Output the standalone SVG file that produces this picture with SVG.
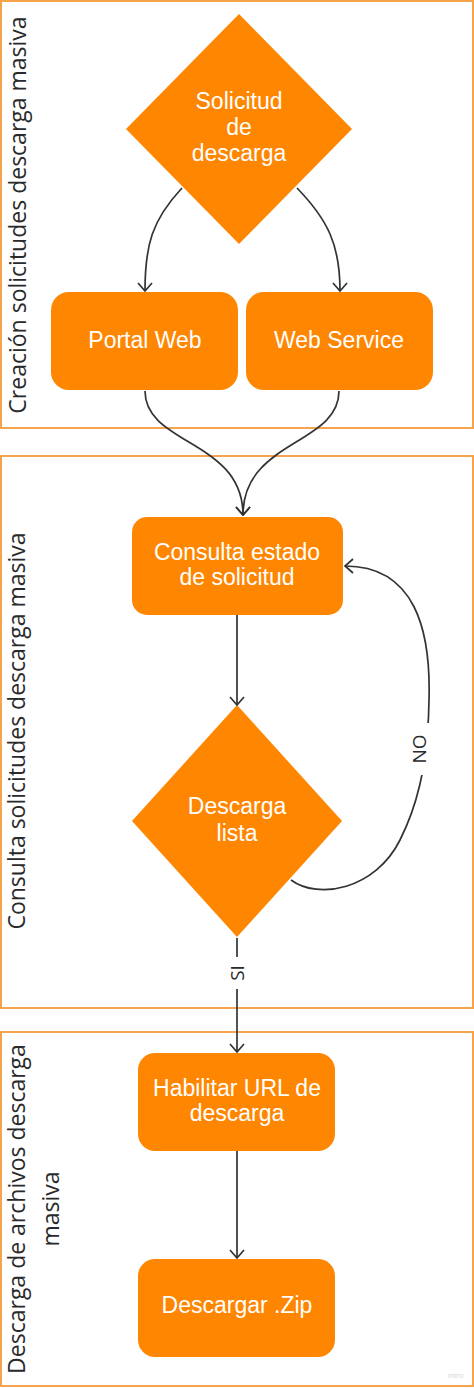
<svg xmlns="http://www.w3.org/2000/svg" width="474" height="1388" viewBox="0 0 474 1388">
<style>
.frame{fill:#ffffff;stroke:#F5A34C;stroke-width:2}
.lane{font-family:"Open Sans","DejaVu Sans",sans-serif;font-size:23px;fill:#2a2a2a;text-anchor:middle}
.node{fill:#FF8600}
.nt{font-family:"Liberation Sans",Arial,sans-serif;font-size:23px;fill:#FFFFFF;text-anchor:middle}
.conn{fill:none;stroke:#333333;stroke-width:1.7}
.lbl{font-family:"Open Sans","DejaVu Sans",sans-serif;font-size:19px;fill:#2a2a2a;text-anchor:middle}
.wm{font-family:"Liberation Sans",Arial,sans-serif;font-size:8px;fill:#d8d8d8}
</style>
<defs>
<marker id="arr" viewBox="0 0 10 16" refX="9" refY="8" markerWidth="10" markerHeight="16" markerUnits="userSpaceOnUse" orient="auto">
<path d="M1,1 L9,8 L1,15" fill="none" stroke="#333333" stroke-width="1.7"/>
</marker>
</defs>

<g id="lanes">
<g id="lane1">
<rect class="frame" x="1" y="1" width="472" height="427"/>
<text class="lane" transform="translate(26,215) rotate(-90)">Creación solicitudes descarga masiva</text>
</g>
<g id="lane2">
<rect class="frame" x="1" y="456" width="472" height="552"/>
<text class="lane" transform="translate(25,731) rotate(-90)">Consulta solicitudes descarga masiva</text>
</g>
<g id="lane3">
<rect class="frame" x="1" y="1032" width="472" height="354"/>
<text class="lane" transform="translate(25,1209) rotate(-90)">Descarga de archivos descarga</text>
<text class="lane" transform="translate(59,1209) rotate(-90)">masiva</text>
</g>
</g>

<g id="solicitud">
<polygon class="node" points="239,14 352,129 239,244 126,129"/>
<text class="nt" x="239" y="109">Solicitud</text>
<text class="nt" x="239" y="135">de</text>
<text class="nt" x="239" y="161">descarga</text>
</g>
<g id="portal">
<rect class="node" x="51" y="292" width="187" height="98" rx="18"/>
<text class="nt" x="145" y="348">Portal Web</text>
</g>
<g id="webservice">
<rect class="node" x="246" y="292" width="187" height="98" rx="18"/>
<text class="nt" x="339" y="348">Web Service</text>
</g>
<g id="consulta">
<rect class="node" x="132" y="517" width="211" height="98" rx="15"/>
<text class="nt" x="237" y="560">Consulta estado</text>
<text class="nt" x="237" y="585">de solicitud</text>
</g>
<g id="lista">
<polygon class="node" points="237,705 342,821 237,937 132,821"/>
<text class="nt" x="237" y="814">Descarga</text>
<text class="nt" x="237" y="841">lista</text>
</g>
<g id="habilitar">
<rect class="node" x="138" y="1053" width="197" height="98" rx="17"/>
<text class="nt" x="237" y="1096">Habilitar URL de</text>
<text class="nt" x="237" y="1121">descarga</text>
</g>
<g id="zip">
<rect class="node" x="138" y="1259" width="197" height="98" rx="17"/>
<text class="nt" x="237" y="1313">Descargar .Zip</text>
</g>

<g id="connectors">
<path class="conn" d="M182,188 C152,220 145,245 145,291" marker-end="url(#arr)"/>
<path class="conn" d="M297,188 C328,220 340,245 340,291" marker-end="url(#arr)"/>
<path class="conn" d="M145,391 C145,445 243,440 243,515" marker-end="url(#arr)"/>
<path class="conn" d="M339,391 C339,445 243,440 243,515" marker-end="url(#arr)"/>
<path class="conn" d="M237,615 L237,705" marker-end="url(#arr)"/>
<path class="conn" d="M291,880 C318,900 375,890 400,840 C415,810 428,770 429,700 C431,630 415,566 345,566" marker-end="url(#arr)"/>
<path class="conn" d="M237,938 L237,1052" marker-end="url(#arr)"/>
<path class="conn" d="M237,1151 L237,1258" marker-end="url(#arr)"/>
<g id="label-no">
<rect x="407" y="723" width="30" height="52" fill="#ffffff"/>
<text class="lbl" transform="translate(426,749) rotate(-90)">NO</text>
</g>
<g id="label-si">
<rect x="224" y="957" width="26" height="32" fill="#ffffff"/>
<text class="lbl" transform="translate(244,973) rotate(-90)">SI</text>
</g>
</g>
<text class="wm" x="448" y="1378">miro</text>
</svg>
